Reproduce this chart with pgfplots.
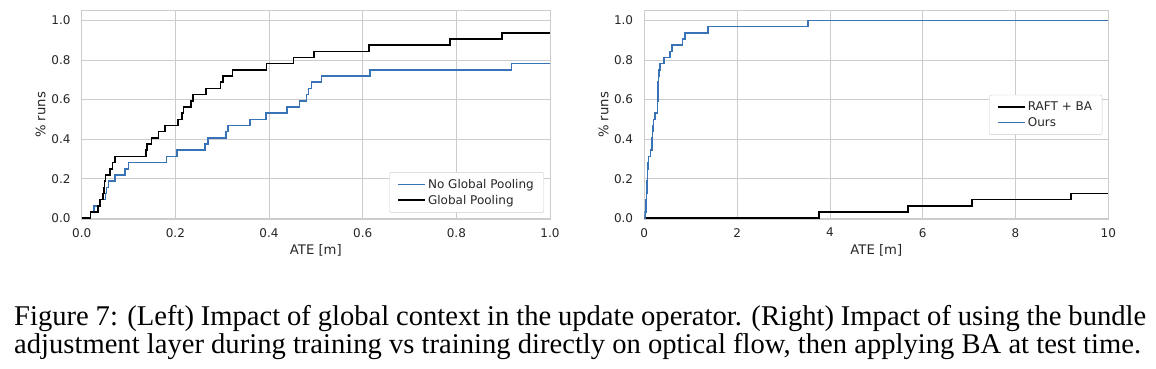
\documentclass[border=0pt]{standalone}
\usepackage{pgfplots}
\pgfplotsset{compat=1.18}
\usepackage{fontspec}
\setmainfont{DejaVu Sans}
\newfontfamily\capfont{Liberation Serif}
\definecolor{sbblue}{RGB}{55,115,182}
\definecolor{txt}{RGB}{38,38,38}
\definecolor{gridc}{RGB}{204,204,204}
\pgfplotsset{
  runsstyle/.style={
    scale only axis,
    height=208.3pt,
    ymin=-0.004, ymax=1.049,
    ytick={0,0.2,0.4,0.6,0.8,1.0},
    yticklabel style={/pgf/number format/fixed,/pgf/number format/fixed zerofill,/pgf/number format/precision=1,inner sep=0pt,xshift=-11pt},
    /pgf/number format/assume math mode=true,
    tick label style={font=\fontsize{12}{13}\selectfont, text=txt},
    label style={font=\fontsize{13.2}{14}\selectfont, text=txt},
    major tick length=0pt,
    grid=major,
    major grid style={draw=gridc, line width=0.8pt},
    axis line style={draw=gridc, line width=1pt},
    xlabel={ATE [m]},
    ylabel={\% runs},
    xlabel style={at={(axis description cs:0.5,-0.149)}, anchor=center},
    ylabel style={at={(axis description cs:-0.088,0.5)}, anchor=center},
    xticklabel style={inner sep=0pt, yshift=-9pt},
    legend cell align=left,
    legend image code/.code={\draw[#1] (0pt,0pt) -- (27pt,0pt);},
    legend style={draw=gridc, rounded corners=2pt, fill=white, font=\fontsize{12}{13}\selectfont, text=txt, inner xsep=8pt, inner ysep=5pt, row sep=1pt},
  }
}
\begin{document}
\begin{tikzpicture}
\path[use as bounding box] (0pt,0pt) rectangle (1156pt,-368pt);
\begin{axis}[runsstyle,
  at={(81.7pt,-219pt)}, anchor=south west,
  width=468.3pt,
  xmin=0, xmax=1,
  xtick={0,0.2,0.4,0.6,0.8,1.0},
  xticklabel style={/pgf/number format/fixed,/pgf/number format/fixed zerofill,/pgf/number format/precision=1},
  legend style={at={(0.987,0.03)}, anchor=south east},
]
\addplot[const plot, sbblue, line width=1.6pt] coordinates {
(0,0)(0.019,.03125)(0.026,.0625)(0.039,.09375)(0.051,.125)(0.053,.15625)(0.057,.1875)(0.071,.21875)(0.092,.25)(0.0996,.28125)(0.181,.3125)(0.203,.34375)(0.263,.375)(0.270,.40625)(0.308,.4375)(0.312,.46875)(0.359,.5)(0.394,.53125)(0.439,.5625)(0.465,.59375)(0.480,.625)(0.484,.65625)(0.491,.6875)(0.512,.71875)(0.616,.75)(0.918,.78125)(1.0,.78125)
};
\addlegendentry{No Global Pooling}
\addplot[const plot, black, line width=1.6pt] coordinates {
(0,0)(0.019,.03125)(0.035,.0625)(0.039,.09375)(0.045,.125)(0.047,.15625)(0.049,.1875)(0.051,.21875)(0.060,.25)(0.066,.28125)(0.071,.3125)(0.137,.34375)(0.139,.375)(0.149,.40625)(0.164,.4375)(0.178,.46875)(0.206,.5)(0.214,.53125)(0.217,.5625)(0.233,.59375)(0.238,.625)(0.265,.65625)(0.296,.6875)(0.302,.71875)(0.322,.75)(0.395,.78125)(0.452,.8125)(0.496,.84375)(0.614,.875)(0.787,.90625)(0.897,.9375)(1.0,.9375)
};
\addlegendentry{Global Pooling}
\end{axis}
\begin{axis}[runsstyle,
  at={(644.3pt,-219pt)}, anchor=south west,
  width=464pt,
  xmin=0, xmax=10,
  xtick={0,2,4,6,8,10},
  legend style={at={(0.987,0.5)}, anchor=east},
]
\addplot[const plot, black, line width=1.6pt] coordinates {
(0,0)(3.77,.03125)(5.68,.0625)(7.06,.09375)(9.2,.125)(10,.125)
};
\addlegendentry{RAFT + BA}
\addplot[const plot, sbblue, line width=1.6pt] coordinates {
(0,0)(0.02,.03125)(0.03,.0625)(0.04,.09375)(0.05,.125)(0.055,.15625)(0.06,.1875)(0.065,.21875)(0.07,.25)(0.08,.28125)(0.087,.3125)(0.13,.34375)(0.16,.375)(0.17,.40625)(0.18,.4375)(0.19,.46875)(0.2,.5)(0.23,.53125)(0.28,.5625)(0.285,.59375)(0.29,.625)(0.295,.65625)(0.3,.6875)(0.31,.71875)(0.32,.75)(0.338,.78125)(0.43,.8125)(0.55,.84375)(0.60,.875)(0.82,.90625)(0.88,.9375)(1.37,.96875)(3.53,1)(10,1)
};
\addlegendentry{Ours}
\end{axis}
\node[anchor=base west, inner sep=0pt, font=\capfont\fontsize{28.6}{32}\selectfont] at (14pt,-325pt) {\makebox[1132pt][s]{Figure 7: (Left) Impact of global context in the update operator. (Right) Impact of using the bundle}};
\node[anchor=base west, inner sep=0pt, font=\capfont\fontsize{28.6}{32}\selectfont] at (14pt,-353pt) {adjustment layer during training vs training directly on optical flow, then applying BA at test time.};
\end{tikzpicture}
\end{document}
